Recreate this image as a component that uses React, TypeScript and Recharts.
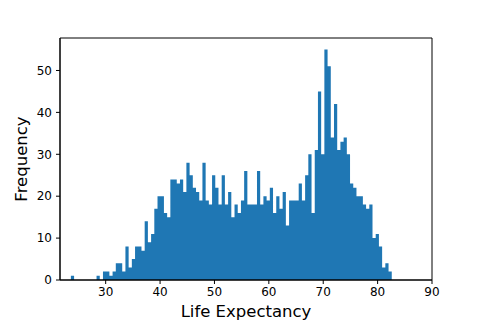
import React from "react";
import { AreaChart, Area, XAxis, YAxis, ReferenceArea } from "recharts";

// histogram of life expectancy, 100 bins
const binStart = 23.6;
const binWidth = 0.59;

const counts = [
  1, 0, 0, 0, 0, 0, 0, 0, 1, 0,
  2, 2, 1, 2, 4, 4, 2, 8, 3, 5,
  8, 8, 7, 14, 9, 11, 17, 20, 20, 16,
  15, 24, 24, 23, 24, 21, 28, 25, 22, 21,
  19, 28, 19, 18, 25, 22, 18, 25, 18, 21,
  15, 18, 16, 19, 26, 18, 18, 18, 26, 18,
  20, 19, 22, 16, 20, 17, 21, 13, 19, 19,
  19, 23, 19, 25, 30, 16, 31, 45, 30, 55,
  51, 34, 42, 31, 33, 34, 30, 23, 22, 20,
  20, 18, 17, 18, 10, 11, 8, 3, 4, 2,
];

const xTicks = [30, 40, 50, 60, 70, 80, 90];
const yTicks = [0, 10, 20, 30, 40, 50];
const xDomain = [21.6, 90];
const yDomain = [0, 57.75];

const histData = counts.map((c, i) => ({ edge: binStart + i * binWidth, count: c }));
histData.push({ edge: binStart + counts.length * binWidth, count: counts[counts.length - 1] });

const font = "'DejaVu Sans', sans-serif";
const tickStyle = { fontFamily: font, fontSize: 12, fill: "#000" };
const labelStyle = { fontFamily: font, fontSize: 16.5, fill: "#000" };

export default function App() {
  return (
    <div style={{ position: "absolute", left: 0, top: 0, width: 480, height: 320, background: "#fff" }}>
      <AreaChart width={480} height={320} data={histData} margin={{ top: 38, right: 48, bottom: 0, left: 0 }}>
        <XAxis
          dataKey="edge"
          type="number"
          domain={xDomain}
          ticks={xTicks}
          height={40}
          tickSize={4}
          tickMargin={3}
          tick={tickStyle}
          stroke="#000"
          label={{ value: "Life Expectancy", position: "center", dy: 11, style: labelStyle }}
        />
        <YAxis
          type="number"
          domain={yDomain}
          ticks={yTicks}
          width={60}
          tickSize={4}
          tickMargin={4}
          tick={tickStyle}
          stroke="#000"
          label={{ value: "Frequency", angle: -90, position: "center", dx: -9, style: labelStyle }}
        />
        <Area
          dataKey="count"
          type="stepAfter"
          fill="#1f77b4"
          fillOpacity={1}
          stroke="none"
          isAnimationActive={false}
        />
        <ReferenceArea x1={xDomain[0]} x2={xDomain[1]} y1={yDomain[0]} y2={yDomain[1]} fill="none" stroke="#000" strokeWidth={1} />
      </AreaChart>
    </div>
  );
}
